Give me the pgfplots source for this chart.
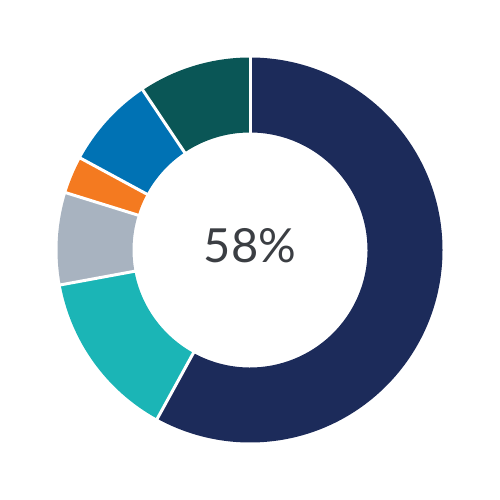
\documentclass[border=0pt]{standalone}
\usepackage{pgfplots}
\pgfplotsset{compat=1.18}
\usepackage{pgfplotstable}
\usepackage{fontspec}
\setmainfont{Lato}

\definecolor{cNavy}{HTML}{1C2B5A}
\definecolor{cTeal}{HTML}{1BB5B6}
\definecolor{cGray}{HTML}{A8B3C0}
\definecolor{cOrange}{HTML}{F47A20}
\definecolor{cBlue}{HTML}{0072B4}
\definecolor{cDarkTeal}{HTML}{0A5656}
\definecolor{cText}{HTML}{3B3E43}

% shares, clockwise from 12 o'clock
\pgfplotstableread{
value color
58.0  cNavy
14.1  cTeal
7.7   cGray
3.1   cOrange
7.7   cBlue
9.4   cDarkTeal
}\donutdata

\def\rout{192.5pt}
\def\rin{117.5pt}

\begin{document}
\begin{tikzpicture}
\begin{axis}[
   scale only axis,
   width=500pt, height=500pt,
   xmin=-250, xmax=250, ymin=-250, ymax=250,
   hide axis, clip=false,
]
\addplot[draw=none] coordinates {(-250,-250) (250,250)};
\pgfplotstablegetrowsof{\donutdata}
\pgfmathtruncatemacro\nrows{\pgfplotsretval-1}
\def\cum{0}
\pgfplotsforeachungrouped \i in {0,...,\nrows}{%
  \pgfplotstablegetelem{\i}{value}\of\donutdata \let\val\pgfplotsretval
  \pgfplotstablegetelem{\i}{color}\of\donutdata \let\col\pgfplotsretval
  \pgfmathsetmacro\aone{90-3.6*\cum}
  \pgfmathsetmacro\atwo{90-3.6*(\cum+\val)}
  \pgfmathsetmacro\cum{\cum+\val}
  \edef\temp{\noexpand\fill[\col, shift={(axis cs:0,0)}]
    (\aone:\rout) arc[start angle=\aone, end angle=\atwo, radius=\rout]
    -- (\atwo:\rin) arc[start angle=\atwo, end angle=\aone, radius=\rin] -- cycle;}
  \temp
}
% white gaps between the slices
\def\cum{0}
\pgfplotsforeachungrouped \i in {0,...,\nrows}{%
  \pgfplotstablegetelem{\i}{value}\of\donutdata \let\val\pgfplotsretval
  \pgfmathsetmacro\aone{90-3.6*\cum}
  \pgfmathsetmacro\cum{\cum+\val}
  \edef\temp{\noexpand\draw[white, line width=3pt, shift={(axis cs:0,0)}]
    (\aone:110pt) -- (\aone:200pt);}
  \temp
}
\node[anchor=base, text=cText, font=\fontsize{47}{47}\selectfont] at (axis cs:0,-13) {58\%};
\end{axis}
\end{tikzpicture}
\end{document}
